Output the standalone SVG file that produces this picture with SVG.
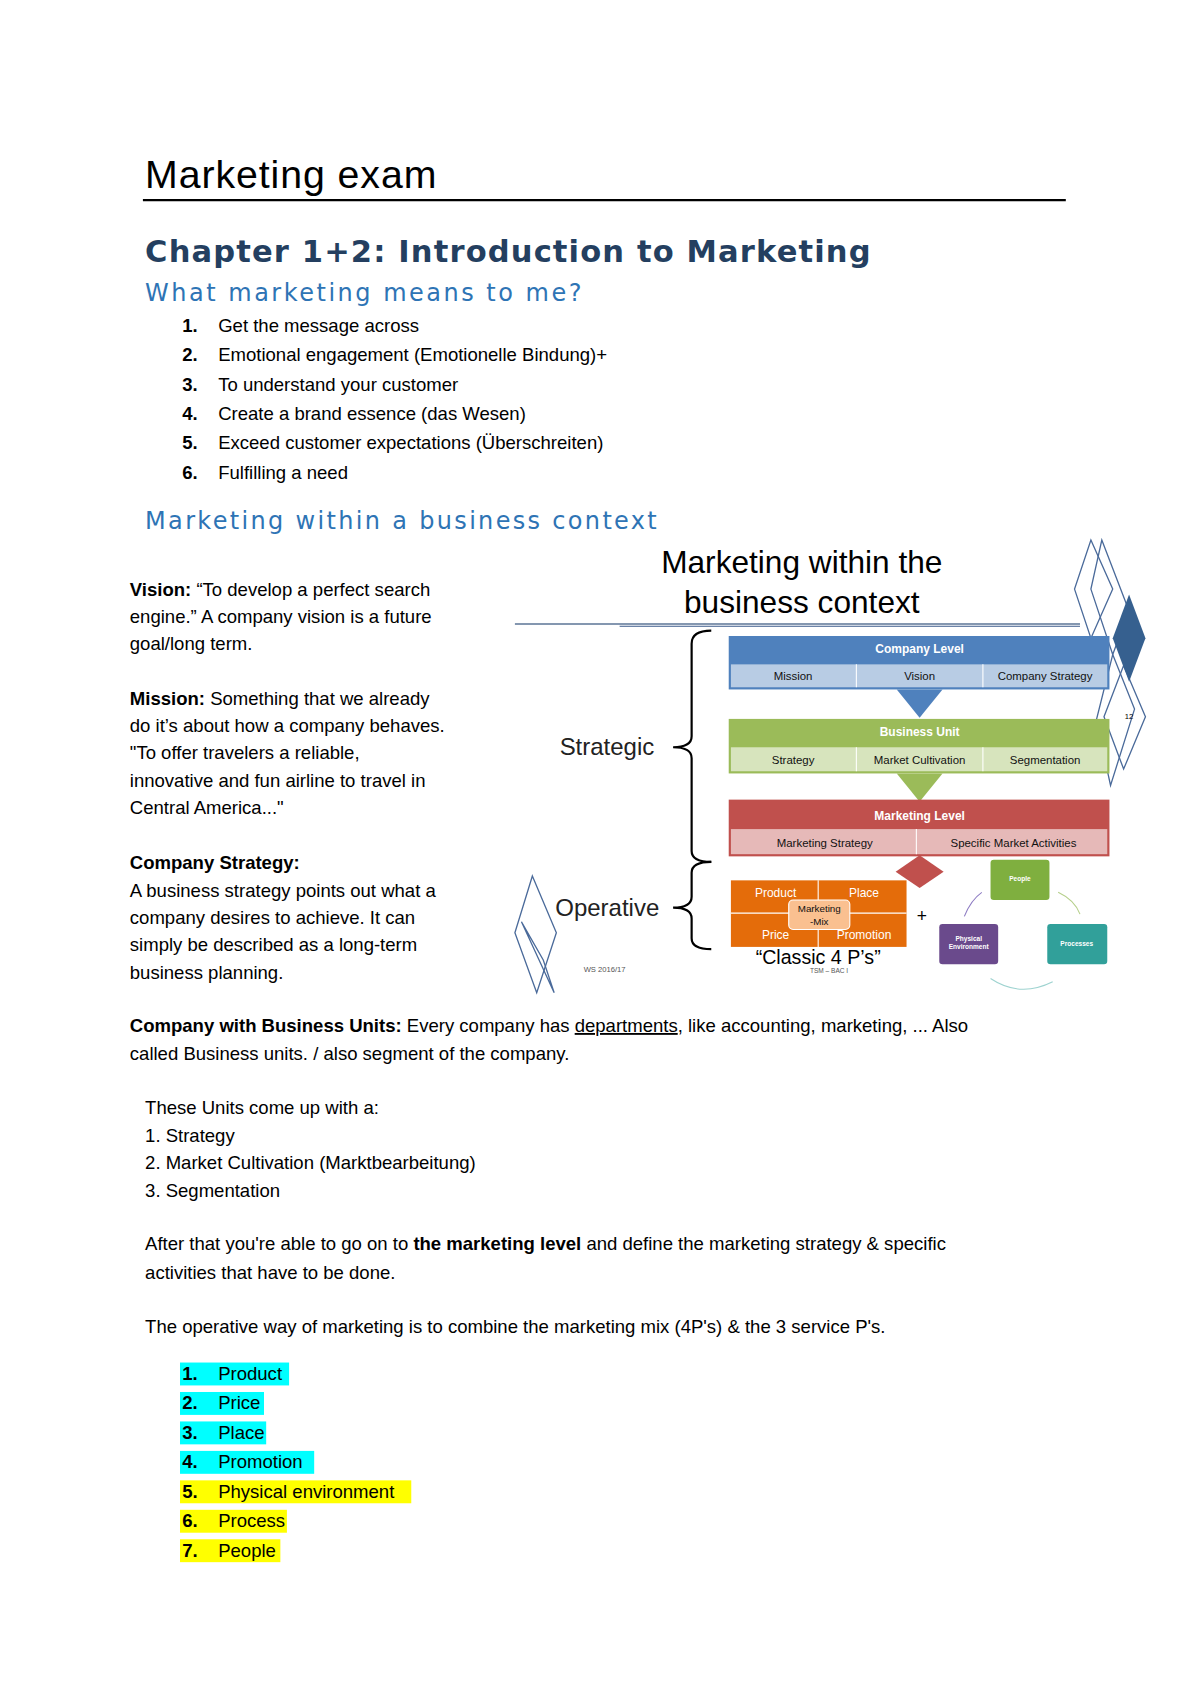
<svg xmlns="http://www.w3.org/2000/svg" width="1200" height="1698" viewBox="0 0 1200 1698">
<style>
.b{font-family:"Liberation Sans",Arial,sans-serif;font-size:17px;fill:#000}
.h{font-family:"DejaVu Sans",Verdana,sans-serif;fill:#2E74B5;font-size:22px}
.n{font-weight:bold}
.w{font-family:"Liberation Sans",Arial,sans-serif;fill:#fff;font-weight:bold;font-size:11px;text-anchor:middle}
.t{font-family:"Liberation Sans",Arial,sans-serif;fill:#fff;font-weight:bold;font-size:6px;text-anchor:middle}
.p{font-family:"Liberation Sans",Arial,sans-serif;fill:#fff;font-size:11px;text-anchor:middle}
.s{font-family:"Liberation Sans",Arial,sans-serif;fill:#111;font-size:10.5px;text-anchor:middle}
.m{font-family:"Liberation Sans",Arial,sans-serif;fill:#111;font-size:9px;text-anchor:middle}
.d{fill:none;stroke:#4a6a9a;stroke-width:1.2}
</style>
<rect width="1200" height="1698" fill="#fff"/>
<g transform="scale(1.0909)">
<g id="header">
<text x="133" y="172" font-family="Liberation Sans,Arial,sans-serif" font-size="36" textLength="267">Marketing exam</text>
<line x1="131" y1="183.5" x2="977" y2="183.5" stroke="#000" stroke-width="2"/>
<text x="133" y="240" font-family="DejaVu Sans,Verdana,sans-serif" font-weight="bold" font-size="28" fill="#243F60" textLength="665">Chapter 1+2: Introduction to Marketing</text>
<text x="133" y="276" class="h" textLength="400">What marketing means to me?</text>
</g>
<g id="list1" class="b">
<text x="167" y="304"><tspan class="n">1.</tspan><tspan x="200">Get the message across</tspan></text>
<text x="167" y="331"><tspan class="n">2.</tspan><tspan x="200">Emotional engagement (Emotionelle Bindung)+</tspan></text>
<text x="167" y="358"><tspan class="n">3.</tspan><tspan x="200">To understand your customer</tspan></text>
<text x="167" y="385"><tspan class="n">4.</tspan><tspan x="200">Create a brand essence (das Wesen)</tspan></text>
<text x="167" y="412"><tspan class="n">5.</tspan><tspan x="200">Exceed customer expectations (Überschreiten)</tspan></text>
<text x="167" y="439"><tspan class="n">6.</tspan><tspan x="200">Fulfilling a need</tspan></text>
</g>
<text x="133" y="485" class="h" textLength="469">Marketing within a business context</text>
<g id="lefttext" class="b">
<text x="119" y="546"><tspan class="n">Vision:</tspan> “To develop a perfect search</text>
<text x="119" y="571">engine.” A company vision is a future</text>
<text x="119" y="596">goal/long term.</text>
<text x="119" y="646"><tspan class="n">Mission:</tspan> Something that we already</text>
<text x="119" y="671">do it’s about how a company behaves.</text>
<text x="119" y="696">"To offer travelers a reliable,</text>
<text x="119" y="721">innovative and fun airline to travel in</text>
<text x="119" y="746">Central America..."</text>
<text x="119" y="797" class="n">Company Strategy:</text>
<text x="119" y="822">A business strategy points out what a</text>
<text x="119" y="847">company desires to achieve. It can</text>
<text x="119" y="872">simply be described as a long-term</text>
<text x="119" y="897">business planning.</text>
</g>
<g id="diagram">
<text x="735" y="525" text-anchor="middle" font-family="Liberation Sans Narrow,Liberation Sans,sans-serif" font-size="29">Marketing within the</text>
<text x="735" y="562" text-anchor="middle" font-family="Liberation Sans Narrow,Liberation Sans,sans-serif" font-size="29">business context</text>
<line x1="472" y1="572" x2="990" y2="572" stroke="#8497b0" stroke-width="2"/>
<line x1="568" y1="574" x2="990" y2="574" stroke="#3b5a8a" stroke-width="1"/>
<g class="d">
<path d="M1000 495 L1020 540 L1000 585 L985 540 Z"/>
<path d="M1010 495 L1035 560 L1020 600 L1000 540 Z"/>
<path d="M1030 610 L1050 657 L1030 705 L1012 657 Z"/>
<path d="M1020 600 L1040 650 L1018 720 L1005 660 Z"/>
<path d="M488 803 L510 855 L492 910 L472 855 Z"/>
<path d="M478 845 L498 880 L508 910 Z"/>
</g>
<path d="M1035 545 L1050 585 L1035 625 L1020 585 Z" fill="#36608f"/>
<text x="1035" y="659" font-family="Liberation Sans,sans-serif" font-size="7" text-anchor="middle">12</text>
<text x="513" y="692" font-family="Liberation Sans,sans-serif" font-size="22" fill="#222">Strategic</text>
<text x="509" y="840" font-family="Liberation Sans,sans-serif" font-size="22" fill="#222">Operative</text>
<path d="M652 578 Q634 578 634 590 L634 675 Q634 685 617 685 Q634 685 634 695 L634 780 Q634 790 652 790" fill="none" stroke="#000" stroke-width="2"/>
<path d="M652 790 Q634 790 634 800 L634 822 Q634 832 617 832 Q634 832 634 842 L634 860 Q634 870 652 870" fill="none" stroke="#000" stroke-width="2"/>
<g id="company">
<rect x="668" y="583" width="349" height="49" fill="#4F81BD"/>
<rect x="670" y="609" width="345" height="21" fill="#B8CCE4"/>
<line x1="785" y1="609" x2="785" y2="630" stroke="#fff"/><line x1="901" y1="609" x2="901" y2="630" stroke="#fff"/>
<text x="843" y="599" class="w">Company Level</text>
<text x="727" y="623" class="s">Mission</text><text x="843" y="623" class="s">Vision</text><text x="958" y="623" class="s">Company Strategy</text>
</g>
<path d="M822 632 L864 632 L843 658 Z" fill="#4F81BD"/>
<g id="bu">
<rect x="668" y="659" width="349" height="50" fill="#9BBB59"/>
<rect x="670" y="685" width="345" height="22" fill="#D7E4BD"/>
<line x1="785" y1="685" x2="785" y2="707" stroke="#fff"/><line x1="901" y1="685" x2="901" y2="707" stroke="#fff"/>
<text x="843" y="675" class="w">Business Unit</text>
<text x="727" y="700" class="s">Strategy</text><text x="843" y="700" class="s">Market Cultivation</text><text x="958" y="700" class="s">Segmentation</text>
</g>
<path d="M822 709 L864 709 L843 735 Z" fill="#9BBB59"/>
<g id="ml">
<rect x="668" y="733" width="349" height="52" fill="#C0504D"/>
<rect x="670" y="760" width="345" height="23" fill="#E6B9B8"/>
<line x1="840" y1="760" x2="840" y2="783" stroke="#fff"/>
<text x="843" y="752" class="w">Marketing Level</text>
<text x="756" y="776" class="s">Marketing Strategy</text><text x="929" y="776" class="s">Specific Market Activities</text>
</g>
<path d="M843 784 L865 799 L843 814 L821 799 Z" fill="#C0504D"/>
<g id="fourp">
<rect x="670" y="807" width="161" height="61" fill="#E46C0A"/>
<line x1="750" y1="807" x2="750" y2="868" stroke="#fff"/><line x1="670" y1="837" x2="831" y2="837" stroke="#fff"/>
<text x="711" y="822" class="p">Product</text><text x="792" y="822" class="p">Place</text>
<text x="711" y="861" class="p">Price</text><text x="792" y="861" class="p">Promotion</text>
<rect x="723" y="825" width="56" height="27" rx="4" fill="#FAC090" stroke="#fff"/>
<text x="751" y="836" class="m">Marketing</text><text x="751" y="848" class="m">-Mix</text>
</g>
<text x="750" y="884" text-anchor="middle" font-family="Liberation Sans Narrow,Liberation Sans,sans-serif" font-size="18">“Classic 4 P’s”</text>
<text x="760" y="892" text-anchor="middle" font-family="Liberation Sans,sans-serif" font-size="6" fill="#555">TSM – BAC I</text>
<text x="535" y="891" font-family="Liberation Sans,sans-serif" font-size="7" fill="#555">WS 2016/17</text>
<text x="845" y="845" text-anchor="middle" font-family="Liberation Sans,sans-serif" font-size="16">+</text>
<g id="people"><rect x="908" y="788" width="54" height="37" rx="3" fill="#7FAF3F"/><text x="935" y="808" class="t">People</text></g>
<g id="phys"><rect x="861" y="847" width="54" height="37" rx="3" fill="#6A4A8C"/><text x="888" y="863" class="t">Physical</text><text x="888" y="870" class="t">Environment</text></g>
<g id="proc"><rect x="960" y="847" width="55" height="37" rx="3" fill="#31A09A"/><text x="987" y="867" class="t">Processes</text></g>
<g fill="none" stroke-width="1">
<path d="M884 840 Q890 825 900 818" stroke="#8e7cc3"/>
<path d="M970 818 Q985 825 990 838" stroke="#b5cf8a"/>
<path d="M908 897 Q935 915 965 900" stroke="#9ed3d0"/>
</g>
</g>
<g id="bottom" class="b">
<text x="119" y="946"><tspan class="n">Company with Business Units:</tspan> Every company has <tspan text-decoration="underline">departments</tspan>, like accounting, marketing, ... Also</text>
<text x="119" y="972">called Business units. / also segment of the company.</text>
<text x="133" y="1021">These Units come up with a:</text>
<text x="133" y="1047">1. Strategy</text>
<text x="133" y="1072">2. Market Cultivation (Marktbearbeitung)</text>
<text x="133" y="1097">3. Segmentation</text>
<text x="133" y="1146">After that you're able to go on to <tspan class="n">the marketing level</tspan> and define the marketing strategy &amp; specific</text>
<text x="133" y="1172">activities that have to be done.</text>
<text x="133" y="1222">The operative way of marketing is to combine the marketing mix (4P's) &amp; the 3 service P's.</text>
</g>
<g id="list2" class="b">
<rect x="165" y="1249" width="100" height="21" fill="#00FFFF"/>
<rect x="165" y="1276" width="77" height="21" fill="#00FFFF"/>
<rect x="165" y="1303" width="79" height="21" fill="#00FFFF"/>
<rect x="165" y="1330" width="123" height="21" fill="#00FFFF"/>
<rect x="165" y="1357" width="212" height="21" fill="#FFFF00"/>
<rect x="165" y="1384" width="98" height="21" fill="#FFFF00"/>
<rect x="165" y="1411" width="92" height="21" fill="#FFFF00"/>
<text x="167" y="1265"><tspan class="n">1.</tspan><tspan x="200">Product</tspan></text>
<text x="167" y="1292"><tspan class="n">2.</tspan><tspan x="200">Price</tspan></text>
<text x="167" y="1319"><tspan class="n">3.</tspan><tspan x="200">Place</tspan></text>
<text x="167" y="1346"><tspan class="n">4.</tspan><tspan x="200">Promotion</tspan></text>
<text x="167" y="1373"><tspan class="n">5.</tspan><tspan x="200">Physical environment</tspan></text>
<text x="167" y="1400"><tspan class="n">6.</tspan><tspan x="200">Process</tspan></text>
<text x="167" y="1427"><tspan class="n">7.</tspan><tspan x="200">People</tspan></text>
</g>
</g>
</svg>
